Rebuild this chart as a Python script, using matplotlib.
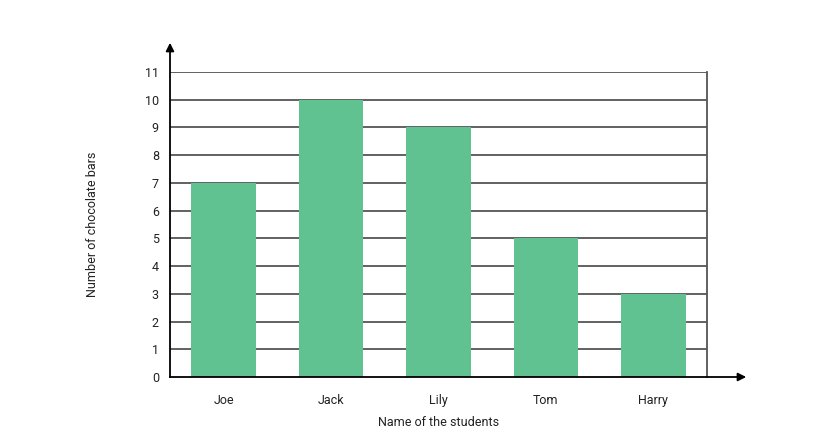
import matplotlib.pyplot as plt

students = ["Joe", "Jack", "Lily", "Tom", "Harry"]
chocolate_bars = [7, 10, 9, 5, 3]
y_ticks = list(range(0, 12))

plt.rcParams['font.family'] = ['Roboto', 'DejaVu Sans']

fig = plt.figure(figsize=(8.14, 4.46), dpi=100)
ax = fig.add_axes([170 / 814, 69 / 446, 537 / 814, 305 / 446])

ax.bar(range(len(students)), chocolate_bars, width=0.6, color="#60c290", zorder=3)
for v in y_ticks[1:]:
    ax.axhline(v, color="#555555", lw=1.3, zorder=1)

ax.set_xlim(-0.5, len(students) - 0.5)
ax.set_ylim(0, 11)
ax.set_xticks(range(len(students)))
ax.set_xticklabels(students, fontsize=9, color="#222222")
ax.set_yticks(y_ticks)
ax.set_yticklabels([str(v) for v in y_ticks], fontsize=9, color="#222222")
ax.tick_params(length=0, pad=8)
ax.tick_params(axis="x", pad=12)

for s in ["top", "left", "bottom"]:
    ax.spines[s].set_visible(False)
ax.spines["right"].set_color("#555555")
ax.spines["right"].set_linewidth(1.3)

ax.set_xlabel("Name of the students", fontsize=9, color="#222222", labelpad=7)
ax.set_ylabel("Number of chocolate bars", fontsize=9, color="#222222", labelpad=33)

# axis arrows
x0, y0 = 170 / 814, 1 - 377 / 446
fig.add_artist(plt.Line2D([x0, x0], [y0, 1 - 48 / 446], color="black", lw=1.3))
fig.add_artist(plt.Line2D([x0, 740 / 814], [y0, y0], color="black", lw=1.3))
ax.annotate("", xy=(x0, 1 - 40 / 446), xytext=(x0, 1 - 50 / 446),
            xycoords="figure fraction",
            arrowprops=dict(arrowstyle="-|>", color="black", lw=1.3, mutation_scale=12))
ax.annotate("", xy=(749 / 814, y0), xytext=(738 / 814, y0),
            xycoords="figure fraction",
            arrowprops=dict(arrowstyle="-|>", color="black", lw=1.3, mutation_scale=12))

fig.savefig("out.png", dpi=100)
